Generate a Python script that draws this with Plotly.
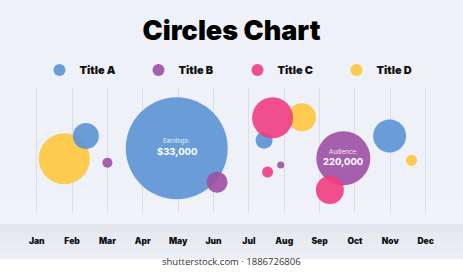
import plotly.graph_objects as go

months = ["Jan", "Feb", "Mar", "Apr", "May", "Jun", "Jul", "Aug", "Sep", "Oct", "Nov", "Dec"]
series_names = ["Title A", "Title B", "Title C", "Title D"]
colors = ["#5b93d3", "#9c4fa3", "#ef3d7e", "#fdc63d"]

# bubble data per series: x = month position (0 = Jan), y = level, size = diameter
a_x = [1.39, 3.96, 6.43, 9.98]
a_y = [61.6, 51.8, 58.2, 61.6]
a_s = [26, 102, 17, 33]

b_x = [2.0, 5.1, 6.9, 8.67]
b_y = [40.2, 24.6, 38.4, 43.8]
b_s = [10, 21, 7, 54]

c_x = [6.67, 6.53, 8.29]
c_y = [76.2, 32.8, 18.4]
c_s = [41, 11, 28]

d_x = [0.78, 7.5, 10.6]
d_y = [43.4, 76.6, 42.2]
d_s = [51, 28, 11]

callouts = [
    {"x": 3.96, "y": 51.8, "label": "Earnings:", "value": "$33,000"},
    {"x": 8.67, "y": 43.8, "label": "Audience:", "value": "220,000"},
]

FONT = "Inter"

fig = go.Figure()

data = {
    "Title A": (a_x, a_y, a_s, 1),
    "Title B": (b_x, b_y, b_s, 2),
    "Title C": (c_x, c_y, c_s, 3),
    "Title D": (d_x, d_y, d_s, 4),
}
draw_order = ["Title D", "Title A", "Title B", "Title C"]
for name in draw_order:
    xs, ys, ss, rank = data[name]
    col = colors[series_names.index(name)]
    fig.add_trace(go.Scatter(
        x=xs, y=ys, mode="markers", name=name, legendrank=rank,
        marker=dict(size=ss, sizemode="diameter", color=col, opacity=0.9, line=dict(width=0)),
        cliponaxis=False, hoverinfo="skip",
    ))

for c in callouts:
    fig.add_annotation(x=c["x"], y=c["y"], text=c["label"], showarrow=False, yshift=7,
                       font=dict(family=FONT, size=6, color="rgba(255,255,255,0.9)"))
    fig.add_annotation(x=c["x"], y=c["y"], text="<b>" + c["value"] + "</b>", showarrow=False, yshift=-3,
                       font=dict(family=FONT, size=9.5, color="white", weight=800))

shapes = [
    dict(type="rect", xref="paper", yref="paper", x0=0, x1=1, y0=(280 - 224) / 280, y1=(280 - 200) / 280,
         fillcolor="#f1f3f9", line=dict(width=0), layer="below"),
]
# bottom band (stepped gradient)
band_cols = ["#e5e7f0", "#e8eaf2", "#eaecf4", "#eceef6"]
for i, bc in enumerate(band_cols):
    y_top = 224 + i * 9
    shapes.append(dict(type="rect", xref="paper", yref="paper", x0=0, x1=1,
                       y0=(280 - 259) / 280, y1=(280 - y_top) / 280,
                       fillcolor=bc, line=dict(width=0), layer="below"))
shapes.append(dict(type="rect", xref="paper", yref="paper", x0=0, x1=1, y0=0, y1=(280 - 259) / 280,
                   fillcolor="white", line=dict(width=0), layer="below"))

fig.update_layout(
    width=463, height=280,
    margin=dict(l=0, r=0, t=0, b=0),
    paper_bgcolor="#eef1f8", plot_bgcolor="rgba(0,0,0,0)",
    shapes=shapes,
    title=dict(text="Circles Chart", x=0.5, xanchor="center", y=1 - 31 / 280, yanchor="middle",
               font=dict(family=FONT, size=27, color="#000000", weight=900)),
    xaxis=dict(range=[-1.038, 12.055], tickmode="array", tickvals=list(range(12)), ticktext=months,
               showgrid=True, gridcolor="#dcdee6", gridwidth=1, zeroline=False, showline=False,
               ticks="", ticklabelstandoff=21, fixedrange=True,
               tickfont=dict(family=FONT, size=8.5, color="#111111", weight=900)),
    yaxis=dict(range=[0, 100], domain=[(280 - 213) / 280, (280 - 88) / 280], showgrid=False,
               zeroline=False, showticklabels=False, fixedrange=True),
    showlegend=True,
    legend=dict(orientation="h", x=0.5 + 6 / 463, xanchor="center", y=1 - 70 / 280, yanchor="middle",
                itemsizing="constant", entrywidth=54, entrywidthmode="pixels",
                font=dict(family=FONT, size=11, color="#111111", weight=900),
                bgcolor="rgba(0,0,0,0)"),
    annotations=list(fig.layout.annotations) + [
        dict(text="shutterstock.com · 1886726806", xref="paper", yref="paper", x=0.5, y=(280 - 270) / 280,
             showarrow=False, font=dict(family="Open Sans", size=9.5, color="#333333"))
    ],
)

fig.write_html("out.html")
